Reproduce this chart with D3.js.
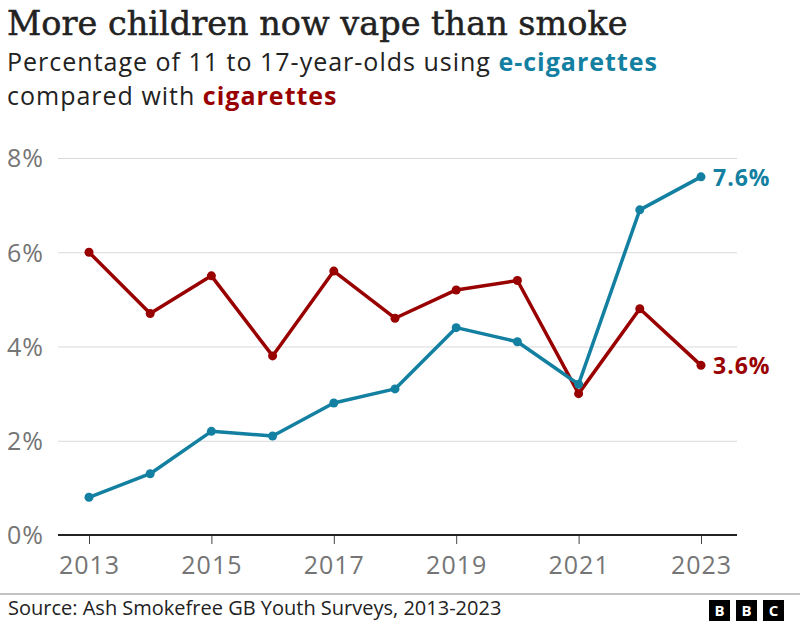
<!DOCTYPE html>
<html><head><meta charset="utf-8">
<script src="https://cdn.jsdelivr.net/npm/d3@7"></script>
<style>body{margin:0;background:#fff}svg{display:block}</style>
</head><body>
<svg id="c" width="800" height="625"></svg>
<script>
const years = [2013,2014,2015,2016,2017,2018,2019,2020,2021,2022,2023];
const ecig = [0.8,1.3,2.2,2.1,2.8,3.1,4.4,4.1,3.2,6.9,7.6];
const cig = [6.0,4.7,5.5,3.8,5.6,4.6,5.2,5.4,3.0,4.8,3.6];
const yTicks = [0,2,4,6,8];
const xTicks = [2013,2015,2017,2019,2021,2023];

const teal = "#1380A1", red = "#990000";
const svg = d3.select("#c");
const x = d3.scaleLinear().domain([2013,2023]).range([89,701]);
const y = d3.scaleLinear().domain([0,8]).range([535,158]);
const sans = "'Open Sans', 'Noto Sans', sans-serif";

svg.append("text").attr("x",7).attr("y",35).attr("font-family","'DejaVu Serif', serif")
  .attr("font-size",33.5).attr("fill","#222").attr("stroke","#222").attr("stroke-width",0.5)
  .text("More children now vape than smoke");
const st = svg.append("text").attr("x",7).attr("y",71).attr("font-family",sans).attr("font-size",25)
  .attr("letter-spacing",1).attr("fill","#222");
st.append("tspan").text("Percentage of 11 to 17-year-olds using ");
st.append("tspan").attr("fill",teal).attr("font-weight","bold").text("e-cigarettes");
const st2 = svg.append("text").attr("x",7).attr("y",105).attr("font-family",sans).attr("font-size",25)
  .attr("letter-spacing",1).attr("fill","#222");
st2.append("tspan").text("compared with ");
st2.append("tspan").attr("fill",red).attr("font-weight","bold").text("cigarettes");

// grid
const yAxis = d3.axisLeft(y).tickValues(yTicks).tickSize(-679).tickFormat(d=>d+"%");
const gy = svg.append("g").attr("transform","translate(58,0)").call(yAxis);
gy.select(".domain").remove();
gy.selectAll(".tick line").attr("stroke","#d9d9d9").attr("stroke-width",1);
gy.selectAll(".tick text").attr("x",-51).attr("dy","0.35em").attr("text-anchor","start")
  .attr("font-family",sans).attr("font-size",25).attr("letter-spacing",1).attr("fill","#757575");
gy.selectAll(".tick").filter(d=>d===0).select("line").attr("stroke","none");

const xAxis = d3.axisBottom(x).tickValues(xTicks).tickSize(9).tickFormat(d3.format("d"));
const gx = svg.append("g").attr("transform","translate(0,535)").call(xAxis);
gx.select(".domain").remove();
gx.selectAll(".tick line").attr("stroke","#444").attr("stroke-width",1);
gx.selectAll(".tick text").attr("y",21).attr("dy","0.71em").attr("font-family",sans).attr("font-size",25)
  .attr("letter-spacing",1).attr("fill","#757575");
svg.append("line").attr("x1",58).attr("x2",737).attr("y1",y(0)).attr("y2",y(0)).attr("stroke","#222").attr("stroke-width",2);

const line = d3.line().x((d,i)=>x(years[i])).y(d=>y(d));
[[cig,red],[ecig,teal]].forEach(([vals,col])=>{
  svg.append("path").datum(vals).attr("d",line).attr("fill","none").attr("stroke",col).attr("stroke-width",3.5).attr("stroke-linejoin","round");
  svg.selectAll(null).data(vals).enter().append("circle").attr("cx",(d,i)=>x(years[i])).attr("cy",d=>y(d)).attr("r",4.5).attr("fill",col);
});
svg.append("text").attr("x",x(2023)+12).attr("y",y(ecig[10])+1).attr("dy","0.35em").attr("font-family",sans)
  .attr("font-weight","bold").attr("font-size",23).attr("letter-spacing",1).attr("fill",teal).text(ecig[10]+"%");
svg.append("text").attr("x",x(2023)+12).attr("y",y(cig[10])+1).attr("dy","0.35em").attr("font-family",sans)
  .attr("font-weight","bold").attr("font-size",23).attr("letter-spacing",1).attr("fill",red).text(cig[10].toFixed(1)+"%");

// footer
svg.append("line").attr("x1",0).attr("x2",800).attr("y1",594).attr("y2",594).attr("stroke","#888").attr("stroke-width",1);
svg.append("text").attr("x",8).attr("y",615).attr("font-family",sans).attr("font-size",20).attr("fill","#222")
  .text("Source: Ash Smokefree GB Youth Surveys, 2013-2023");
["B","B","C"].forEach((l,i)=>{
  const bx = 709 + i*27;
  svg.append("rect").attr("x",bx).attr("y",600).attr("width",21).attr("height",21).attr("fill","#000");
  svg.append("text").attr("x",bx+10.5).attr("y",616).attr("text-anchor","middle").attr("font-family",sans)
    .attr("font-weight","bold").attr("font-size",15).attr("fill","#fff").text(l);
});
</script>
</body></html>
